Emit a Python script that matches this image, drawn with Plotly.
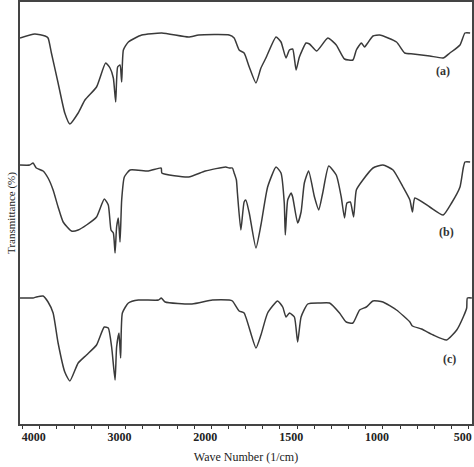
import numpy as np
import plotly.graph_objects as go

# spectre (a)
wn_a = [4230, 4058, 3938, 3903, 3864, 3786, 3708, 3649, 3552, 3473, 3338, 3232, 3181, 3142, 3115, 3092,
        3064, 3045, 3025, 2967, 2811, 2577, 2265, 2148, 1896, 1867, 1838, 1809, 1779, 1740, 1711, 1682,
        1623, 1594, 1565, 1545, 1526, 1506, 1487, 1448, 1428, 1386, 1321, 1272, 1224, 1175, 1155, 1126,
        1107, 1093, 1058, 1019, 921, 873, 824, 727, 649, 610, 551, 522, 492]
t_a = [386, 390, 388, 386, 371, 341, 311, 300, 311, 324, 337, 361, 356, 346, 322, 357,
       359, 342, 374, 382, 389, 391, 387, 389, 389, 386, 374, 371, 357, 341, 356, 366,
       387, 382, 366, 374, 375, 354, 367, 381, 380, 373, 386, 379, 365, 364, 374, 381,
       377, 380, 388, 389, 382, 371, 370, 368, 366, 371, 379, 391, 391]

# spectre (b)
wn_b = [4230, 4117, 4078, 4040, 3961, 3903, 3844, 3786, 3727, 3630, 3552, 3455, 3338, 3248, 3201, 3169,
        3142, 3122, 3104, 3084, 3064, 3045, 3014, 2947, 2733, 2584, 2577, 2265, 2070, 1916, 1896, 1877,
        1867, 1854, 1848, 1828, 1809, 1799, 1779, 1740, 1711, 1672, 1623, 1594, 1575, 1569, 1555, 1535,
        1526, 1497, 1477, 1458, 1433, 1399, 1374, 1351, 1316, 1272, 1243, 1224, 1210, 1190, 1171, 1155,
        1117, 1058, 1000, 941, 883, 843, 828, 814, 727, 649, 600, 551, 532, 522, 492]
t_b = [259, 259, 261, 256, 253, 246, 234, 217, 202, 193, 194, 199, 207, 225, 219, 194,
       191, 171, 197, 206, 182, 224, 247, 254, 253, 256, 251, 247, 253, 257, 256, 256,
       251, 244, 231, 194, 222, 224, 211, 176, 199, 237, 257, 251, 221, 189, 224, 231,
       227, 201, 212, 241, 253, 227, 214, 231, 258, 249, 227, 206, 221, 222, 207, 234,
       244, 256, 259, 254, 237, 224, 212, 226, 217, 209, 221, 237, 256, 262, 262]

# spectre (c)
wn_c = [4230, 4078, 4040, 3961, 3903, 3844, 3786, 3708, 3649, 3552, 3455, 3338, 3248, 3201, 3162, 3122,
        3104, 3076, 3057, 3037, 2967, 2850, 2616, 2584, 2538, 2226, 1994, 1896, 1877, 1838, 1809, 1740,
        1711, 1672, 1614, 1584, 1565, 1545, 1516, 1497, 1477, 1438, 1370, 1311, 1253, 1214, 1175, 1136,
        1097, 1058, 1000, 921, 843, 828, 775, 707, 629, 570, 532, 512, 508, 482]
t_c = [126, 126, 127, 128, 122, 111, 81, 52, 43, 61, 69, 79, 97, 96, 77, 44,
       77, 91, 66, 111, 121, 124, 124, 126, 122, 120, 124, 124, 123, 113, 111, 76,
       89, 111, 123, 117, 107, 111, 107, 82, 107, 120, 121, 121, 111, 102, 101, 114,
       117, 123, 122, 114, 102, 98, 95, 89, 84, 94, 107, 116, 126, 126]

tick_wn = [4000, 3000, 2000, 1500, 1000, 500]
labels = ['(a)', '(b)', '(c)']
label_wn = [652, 629, 615]
label_t = [353, 192, 65]


def echelle(w):
    # axe coupé : en dessous de 2000 cm-1 l'échelle est doublée
    w = np.asarray(w, dtype=float)
    return np.where(w >= 2000, w, 2 * w - 2000)


fig = go.Figure()
for wn, t in [(wn_a, t_a), (wn_b, t_b), (wn_c, t_c)]:
    fig.add_trace(go.Scatter(x=echelle(wn), y=t, mode='lines',
                             line=dict(color='#3a3a3a', width=1.5, shape='spline', smoothing=0.5),
                             showlegend=False))

for txt, w, t in zip(labels, label_wn, label_t):
    fig.add_annotation(x=float(echelle(w)), y=t, text=txt, showarrow=False,
                       font=dict(family='Liberation Serif', size=12, color='#333333', weight='bold'))

positions = list(range(4200, -1100, -200))
fig.update_xaxes(range=[4230, float(echelle(481))], tickvals=list(echelle(tick_wn)),
                 ticktext=[str(v) for v in tick_wn], automargin=False,
                 ticks='outside', ticklen=3, tickcolor='#333333',
                 ticklabelshift=6, ticklabelstandoff=-2, ticklabeloverflow='allow',
                 minor=dict(tickvals=positions, ticks='outside', ticklen=3, tickcolor='#333333'),
                 showline=True, linecolor='#444444', linewidth=1.5, mirror=True,
                 showgrid=False, zeroline=False,
                 tickfont=dict(family='Liberation Serif', size=12, color='#222222', weight='bold'),
                 title=dict(text='Wave Number (1/cm)', standoff=9,
                            font=dict(family='Liberation Serif', size=12, color='#222222')))
fig.update_yaxes(range=[0, 422], showticklabels=False, ticks='', automargin=False,
                 showline=True, linecolor='#444444', linewidth=1.5, mirror=True,
                 showgrid=False, zeroline=False,
                 title=dict(text='Transmittance (%)', standoff=0,
                            font=dict(family='Liberation Serif', size=11, color='#222222')))
fig.update_layout(width=474, height=467, margin=dict(l=20, r=2, t=2, b=43),
                  plot_bgcolor='white', paper_bgcolor='white')

fig.write_html('out.html', config={'displayModeBar': False},
               post_script="document.body.style.margin='0';")
